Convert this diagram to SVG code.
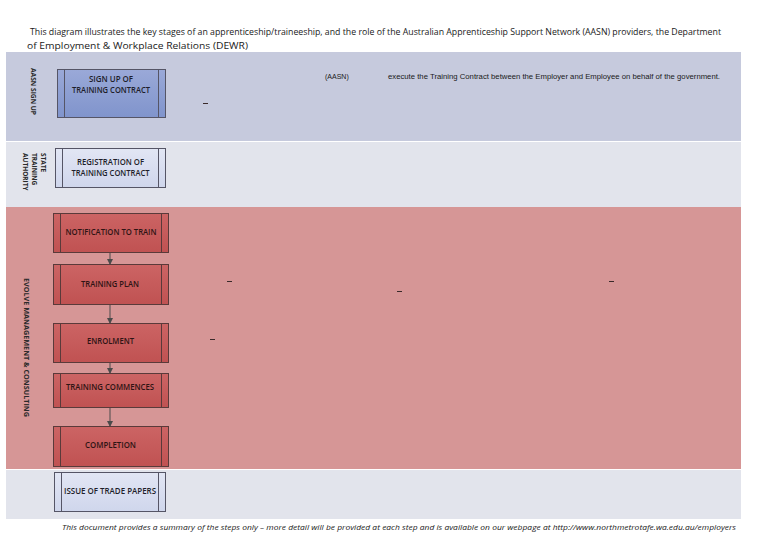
<svg xmlns="http://www.w3.org/2000/svg" width="768" height="543" viewBox="0 0 768 543">
<defs>
<linearGradient id="gBlue" x1="0" y1="0" x2="0" y2="1"><stop offset="0" stop-color="#9aa9d8"/><stop offset="1" stop-color="#8094cc"/></linearGradient>
<linearGradient id="gLight" x1="0" y1="0" x2="0" y2="1"><stop offset="0" stop-color="#e2e6f4"/><stop offset="1" stop-color="#cfd6ec"/></linearGradient>
<linearGradient id="gRed" x1="0" y1="0" x2="0" y2="1"><stop offset="0" stop-color="#cc6464"/><stop offset="1" stop-color="#c05252"/></linearGradient>
<marker id="arr" markerWidth="6" markerHeight="6" refX="5" refY="3" orient="auto" markerUnits="userSpaceOnUse"><path d="M0,0 L6,3 L0,6 Z" fill="#4a4a4a"/></marker>
</defs>
<style>
.title{font-family:"Open Sans","Noto Sans",sans-serif;font-size:9px;fill:#1a1a1a}
.foot{font-family:"Open Sans","Noto Sans",sans-serif;font-size:7.5px;font-style:italic;fill:#1a1a1a}
.lbl{font-family:"Open Sans","Noto Sans",sans-serif;font-size:8px;font-weight:600;fill:#1e1e2a;text-anchor:middle}
.rl{font-family:"Open Sans","Noto Sans",sans-serif;font-size:8px;font-weight:600;fill:#2e1414;text-anchor:middle}
.side{font-family:"Open Sans","Noto Sans",sans-serif;font-size:6.5px;font-weight:bold;fill:#2a2a2a}
.ar{font-family:"Liberation Sans",Arial,sans-serif;font-size:7px;fill:#1a1a1a}
.dash{stroke:#3a2a2a;stroke-width:1}
.box{stroke:#555566;stroke-width:1}
.rbox{stroke:#5a3a3a;stroke-width:1}
.conn{stroke:#4a4a4a;stroke-width:1;fill:none}
</style>

<text class="title" x="30" y="35" textLength="691" lengthAdjust="spacingAndGlyphs">This diagram illustrates the key stages of an apprenticeship/traineeship, and the role of the Australian Apprenticeship Support Network (AASN) providers, the Department</text>
<text class="title" x="27" y="49" textLength="221" lengthAdjust="spacingAndGlyphs">of Employment &amp; Workplace Relations (DEWR)</text>

<g id="bands">
<rect x="6" y="52" width="735" height="89" fill="#c6cadd"/>
<rect x="6" y="142" width="735" height="65" fill="#e2e4ec"/>
<rect x="6" y="207" width="735" height="262" fill="#d69696"/>
<rect x="6" y="470" width="735" height="49" fill="#e2e4ec"/>
</g>

<g id="lane-labels">
<text class="side" transform="translate(33,68) rotate(90)" y="2.3" textLength="47" lengthAdjust="spacingAndGlyphs">AASN SIGN UP</text>
<text class="side" transform="translate(43,153) rotate(90)" y="2.3">STATE</text>
<text class="side" transform="translate(34,153) rotate(90)" y="2.3">TRAINING</text>
<text class="side" transform="translate(25,153) rotate(90)" y="2.3">AUTHORITY</text>
<text class="side" transform="translate(26,278) rotate(90)" y="2.3" font-size="7" textLength="139" lengthAdjust="spacingAndGlyphs">EVOLVE MANAGEMENT &amp; CONSULTING</text>
</g>

<g id="notes">
<text class="ar" x="325" y="79">(AASN)</text>
<text class="ar" x="388" y="79" textLength="332" lengthAdjust="spacingAndGlyphs">execute the Training Contract between the Employer and Employee on behalf of the government.</text>
<line class="dash" x1="203" y1="103.5" x2="208" y2="103.5"/>
<line class="dash" x1="227" y1="281.5" x2="232" y2="281.5"/>
<line class="dash" x1="397" y1="291.5" x2="402" y2="291.5"/>
<line class="dash" x1="609" y1="281.5" x2="614" y2="281.5"/>
<line class="dash" x1="210" y1="339.5" x2="215" y2="339.5"/>
</g>

<g id="connectors">
<line class="conn" x1="110" y1="252" x2="110" y2="264" marker-end="url(#arr)"/>
<line class="conn" x1="110" y1="304" x2="110" y2="323" marker-end="url(#arr)"/>
<line class="conn" x1="110" y1="362" x2="110" y2="373" marker-end="url(#arr)"/>
<line class="conn" x1="110" y1="407" x2="110" y2="426" marker-end="url(#arr)"/>
</g>

<g id="n-signup">
<rect class="box" x="57.5" y="69.5" width="108" height="48" fill="url(#gBlue)"/>
<line class="box" x1="64.5" y1="69.5" x2="64.5" y2="117.5"/>
<line class="box" x1="158.5" y1="69.5" x2="158.5" y2="117.5"/>
<text class="lbl" x="111" y="82" textLength="44" lengthAdjust="spacingAndGlyphs">SIGN UP OF</text>
<text class="lbl" x="111" y="93" textLength="78" lengthAdjust="spacingAndGlyphs">TRAINING CONTRACT</text>
</g>

<g id="n-registration">
<rect class="box" x="55.5" y="148.5" width="110" height="39" fill="url(#gLight)"/>
<line class="box" x1="62.5" y1="148.5" x2="62.5" y2="187.5"/>
<line class="box" x1="158.5" y1="148.5" x2="158.5" y2="187.5"/>
<text class="lbl" x="110.5" y="165" textLength="67" lengthAdjust="spacingAndGlyphs">REGISTRATION OF</text>
<text class="lbl" x="110.5" y="176" textLength="78" lengthAdjust="spacingAndGlyphs">TRAINING CONTRACT</text>
</g>

<g id="n-notification">
<rect class="rbox" x="53.5" y="213.5" width="115" height="39" fill="url(#gRed)"/>
<line class="rbox" x1="60.5" y1="213.5" x2="60.5" y2="252.5"/>
<line class="rbox" x1="161.5" y1="213.5" x2="161.5" y2="252.5"/>
<text class="rl" x="111" y="235" textLength="91" lengthAdjust="spacingAndGlyphs">NOTIFICATION TO TRAIN</text>
</g>

<g id="n-plan">
<rect class="rbox" x="53.5" y="264.5" width="115" height="40" fill="url(#gRed)"/>
<line class="rbox" x1="60.5" y1="264.5" x2="60.5" y2="304.5"/>
<line class="rbox" x1="161.5" y1="264.5" x2="161.5" y2="304.5"/>
<text class="rl" x="110" y="287" textLength="58" lengthAdjust="spacingAndGlyphs">TRAINING PLAN</text>
</g>

<g id="n-enrolment">
<rect class="rbox" x="53.5" y="323.5" width="115" height="39" fill="url(#gRed)"/>
<line class="rbox" x1="60.5" y1="323.5" x2="60.5" y2="362.5"/>
<line class="rbox" x1="161.5" y1="323.5" x2="161.5" y2="362.5"/>
<text class="rl" x="110.5" y="344" textLength="47" lengthAdjust="spacingAndGlyphs">ENROLMENT</text>
</g>

<g id="n-commences">
<rect class="rbox" x="53.5" y="373.5" width="115" height="34" fill="url(#gRed)"/>
<line class="rbox" x1="60.5" y1="373.5" x2="60.5" y2="407.5"/>
<line class="rbox" x1="161.5" y1="373.5" x2="161.5" y2="407.5"/>
<text class="rl" x="110" y="390" textLength="88" lengthAdjust="spacingAndGlyphs">TRAINING COMMENCES</text>
</g>

<g id="n-completion">
<rect class="rbox" x="53.5" y="426.5" width="115" height="40" fill="url(#gRed)"/>
<line class="rbox" x1="60.5" y1="426.5" x2="60.5" y2="466.5"/>
<line class="rbox" x1="161.5" y1="426.5" x2="161.5" y2="466.5"/>
<text class="rl" x="110.5" y="448" textLength="51" lengthAdjust="spacingAndGlyphs">COMPLETION</text>
</g>

<g id="n-trade">
<rect class="box" x="54.5" y="472.5" width="111" height="39" fill="url(#gLight)"/>
<line class="box" x1="61.5" y1="472.5" x2="61.5" y2="511.5"/>
<line class="box" x1="158.5" y1="472.5" x2="158.5" y2="511.5"/>
<text class="lbl" x="110" y="494" textLength="92" lengthAdjust="spacingAndGlyphs">ISSUE OF TRADE PAPERS</text>
</g>

<text class="foot" x="62" y="530" textLength="674" lengthAdjust="spacingAndGlyphs">This document provides a summary of the steps only – more detail will be provided at each step and is available on our webpage at http://www.northmetrotafe.wa.edu.au/employers</text>
</svg>
